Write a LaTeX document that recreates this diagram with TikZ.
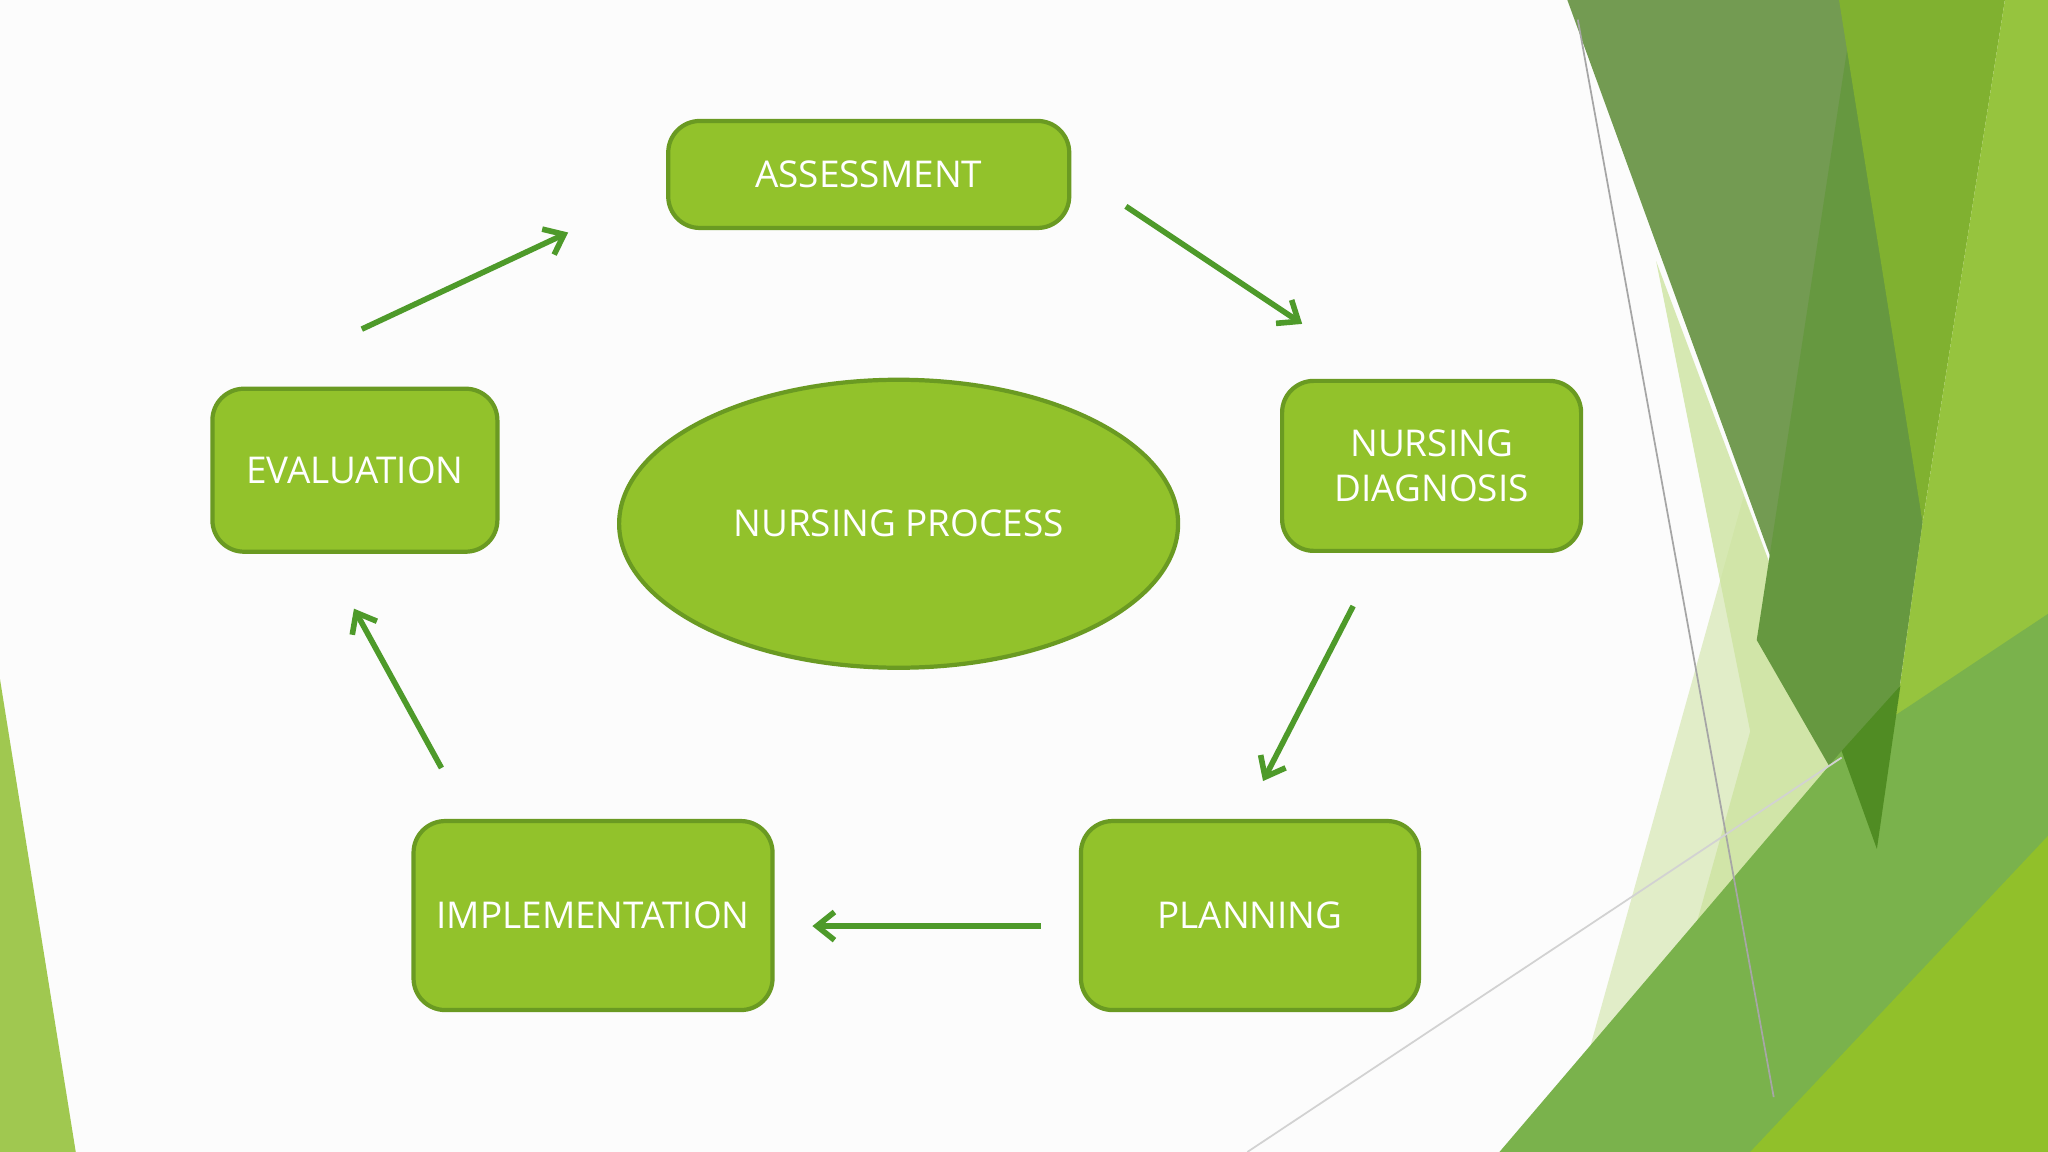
\documentclass[tikz,border=0pt]{standalone}
\usepackage{fontspec}
\setmainfont{Open Sans}
\usetikzlibrary{arrows.meta,shapes.geometric}
\definecolor{boxfill}{HTML}{92C22B}
\definecolor{boxline}{HTML}{6A9A22}
\definecolor{arr}{HTML}{4E9A2A}
\tikzset{
  bx/.style={draw=boxline,line width=1.2pt,fill=boxfill,rounded corners=9pt,text=white,font=\fontsize{10.5}{13}\selectfont,align=center,anchor=north west},
  conn/.style={draw=arr,line width=1.6pt,-{Straight Barb[length=5pt,width=8pt]}}
}
\begin{document}
\begin{tikzpicture}[x=0.01306cm,y=-0.01306cm]
\useasboundingbox (0,0) rectangle (1568,882);
\fill[white!98!gray] (0,0) rectangle (1568,882);
% decoration
\fill[color={rgb,255:red,225;green,237;blue,200}] (1195,882) -- (1335,380) -- (1410,575) -- (1300,882) -- cycle;
\fill[color={rgb,255:red,205;green,228;blue,160},opacity=0.8] (1268,200) -- (1437,650) -- (1360,882) -- (1250,882) -- (1340,560) -- cycle;
\fill[color={rgb,255:red,115;green,155;blue,82}] (1200,0) -- (1420,0) -- (1472,400) -- (1437,650) -- cycle;
\fill[color={rgb,255:red,102;green,152;blue,64}] (1420,0) -- (1472,400) -- (1437,650) -- (1345,490) -- cycle;
\fill[color={rgb,255:red,128;green,177;blue,48}] (1408,0) -- (1535,0) -- (1472,400) -- cycle;
\fill[color={rgb,255:red,150;green,196;blue,62}] (1535,0) -- (1568,0) -- (1568,882) -- (1405,882) -- (1472,400) -- cycle;
\fill[color={rgb,255:red,122;green,178;blue,76}] (1148,882) -- (1410,575) -- (1568,470) -- (1568,882) -- cycle;
\fill[color={rgb,255:red,80;green,140;blue,35}] (1410,575) -- (1455,525) -- (1437,650) -- cycle;
\fill[color={rgb,255:red,145;green,192;blue,42}] (1340,882) -- (1568,640) -- (1568,882) -- cycle;
\fill[color={rgb,255:red,160;green,200;blue,80}] (0,520) -- (58,882) -- (0,882) -- cycle;
\draw[gray!70,line width=0.5pt] (1208,15) -- (1358,840);
\draw[gray!35,line width=0.5pt] (955,882) -- (1410,580);
% nodes
\node[bx,minimum width=4.01cm,minimum height=1.07cm] (as) at (510,91) {ASSESSMENT};
\node[bx,minimum width=2.99cm,minimum height=1.70cm] (nd) at (980,290) {NURSING\\DIAGNOSIS};
\node[bx,minimum width=3.38cm,minimum height=1.89cm] (pl) at (826,627) {PLANNING};
\node[bx,minimum width=3.59cm,minimum height=1.89cm] (im) at (315,627) {IMPLEMENTATION};
\node[bx,minimum width=2.85cm,minimum height=1.63cm] (ev) at (161,296) {EVALUATION};
\node[draw=boxline,line width=1.2pt,fill=boxfill,ellipse,inner sep=0pt,minimum width=5.59cm,minimum height=2.88cm,text=white,font=\fontsize{10.5}{13}\selectfont] (np) at (688,401) {NURSING PROCESS};
% connectors
\coordinate (a1) at (277,252); \coordinate (a2) at (435,178);
\coordinate (b1) at (862,158); \coordinate (b2) at (997,248);
\coordinate (c1) at (1036,464); \coordinate (c2) at (967,598);
\coordinate (d1) at (797,709); \coordinate (d2) at (622,709);
\coordinate (e1) at (338,588); \coordinate (e2) at (271,466);
\draw[conn] (a1) -- (a2);
\draw[conn] (b1) -- (b2);
\draw[conn] (c1) -- (c2);
\draw[conn] (d1) -- (d2);
\draw[conn] (e1) -- (e2);
\end{tikzpicture}
\end{document}
